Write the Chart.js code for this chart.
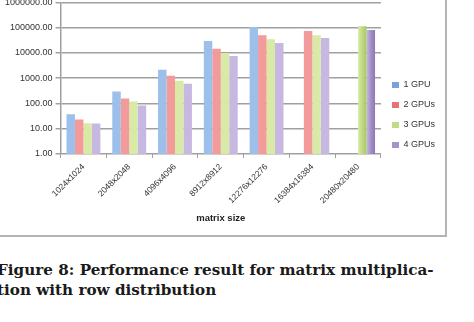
<!DOCTYPE html>
<html>
<head>
<meta charset="utf-8">
<script src="https://cdn.jsdelivr.net/npm/chart.js@4/dist/chart.umd.min.js"></script>
<style>
html,body{margin:0;padding:0;background:#fff;width:474px;height:322px;overflow:hidden;}
#box{position:absolute;left:-4px;top:-10px;width:447px;height:243px;border:2px solid #b4b4b4;background:#fff;}
#wrap{position:absolute;left:0;top:2px;width:447px;height:240px;}
#cap{position:absolute;left:-3px;top:260px;font-family:"DejaVu Serif",serif;font-weight:bold;font-size:15.2px;line-height:20px;color:#1a1a1a;white-space:nowrap;}
</style>
</head>
<body>
<div id="box"><div id="wrap"><canvas id="c"></canvas></div></div>
<div id="cap">Figure 8: Performance result for matrix multiplica-<br>tion with row distribution</div>
<script>
const categories = ["1024x1024","2048x2048","4096x4096","8912x8912","12276x12276","16384x16384","20480x20480"];
const gpu1 = [37, 295, 2150, 29500, 105000, null, null];
const gpu2 = [23, 158, 1250, 14500, 50000, 73000, null];
const gpu3 = [16.5, 120, 800, 10000, 35000, 50000, 115000];
const gpu4 = [16, 83, 600, 7600, 24500, 39000, 80000];
const seriesNames = ["1 GPU","2 GPUs","3 GPUs","4 GPUs"];
const yTicks = [1, 10, 100, 1000, 10000, 100000, 1000000];
const flat = ["#77a3dd","#e67474","#c2da84","#a793cb"];
const light = ["#9cc0ea","#f39a9a","#d9eaa6","#c6b8e0"];
const dark = ["#5a8ccf","#d95c5c","#a8c764","#8d76b8"];

const gradPlugin = {
  id:'grad',
  beforeDatasetsDraw(chart){
    const ctx = chart.ctx;
    chart.data.datasets.forEach((ds, i) => {
      const meta = chart.getDatasetMeta(i);
      meta.data.forEach(el => {
        if (!el || el.x == null || !el.options) return;
        const w = el.width || 8;
        const g = ctx.createLinearGradient(el.x - w/2, 0, el.x + w/2, 0);
        g.addColorStop(0, light[i]);
        g.addColorStop(0.45, flat[i]);
        g.addColorStop(1, dark[i]);
        try { el.options.backgroundColor = g; } catch(e) {}
      });
    });
  }
};

const sets = [gpu1, gpu2, gpu3, gpu4].map((d, i) => ({
  label: seriesNames[i],
  data: d,
  backgroundColor: flat[i],
  borderWidth: 0,
  categoryPercentage: 0.74,
  barPercentage: 1.0
}));

new Chart(document.getElementById('c'), {
  type: 'bar',
  data: { labels: categories, datasets: sets },
  plugins: [gradPlugin],
  options: {
    responsive: true,
    maintainAspectRatio: false,
    animation: false,
    layout: { padding: { left: 4, right: 0, top: 0, bottom: 10 } },
    plugins: {
      tooltip: { enabled: false },
      legend: {
        position: 'right',
        align: 'center',
        title: { display: true, text: ' ', padding: 0, font: { size: 10 } },
        labels: {
          boxWidth: 7, boxHeight: 6, padding: 11,
          color: '#333',
          font: { family: 'Liberation Sans', size: 9 }
        }
      }
    },
    scales: {
      x: {
        grid: { offset: true, drawOnChartArea: false, color: '#a0a0a0', tickLength: 4, lineWidth: 1 },
        border: { color: '#a0a0a0', width: 1 },
        ticks: { maxRotation: 45, minRotation: 45, color: '#333', padding: 4, font: { family: 'Liberation Sans', size: 8.5 } },
        title: { display: true, text: 'matrix size', color: '#222', padding: { top: 3, bottom: 0 }, font: { family: 'Liberation Sans', size: 9.5, weight: 'bold' } }
      },
      y: {
        type: 'logarithmic',
        min: 1, max: 1000000,
        afterBuildTicks(axis){ axis.ticks = yTicks.map(v => ({ value: v })); },
        grid: { color: '#a0a0a0', lineWidth: 1.5, tickLength: 5 },
        border: { color: '#a0a0a0', width: 1.5 },
        ticks: {
          color: '#333', padding: 3,
          font: { family: 'Liberation Sans', size: 9 },
          callback: (v) => Number(v).toFixed(2)
        }
      }
    }
  }
});
</script>
</body>
</html>
